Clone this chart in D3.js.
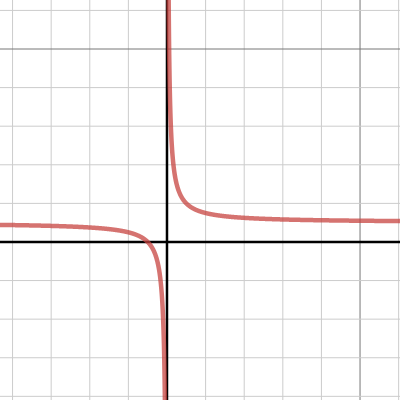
<!DOCTYPE html><html><head><script src="https://cdn.jsdelivr.net/npm/d3@7"></script>
<style>body{margin:0}svg{display:block}</style></head><body><svg width="400" height="400"></svg><script>
const xDomain=[-8.65,12.07];
const yDomain=[-8.19,12.54];
const gridStep=2, majorStep=10;
const curveXsLeft=d3.range(-8.7,-0.005,0.01);
const curveXsRight=d3.range(0.005,12.2,0.01);
const f=x=>1/x+1;
const svg=d3.select("svg");
const x=d3.scaleLinear().domain(xDomain).range([0,400]);
const y=d3.scaleLinear().domain(yDomain).range([400,0]);
const xt=d3.range(-8,13,gridStep), yt=d3.range(-8,13,gridStep);
svg.append("rect").attr("width",400).attr("height",400).attr("fill","#fff");
svg.selectAll(".vx").data(xt.filter(v=>v!==0)).join("line").attr("x1",d=>x(d)).attr("x2",d=>x(d)).attr("y1",0).attr("y2",400)
 .attr("stroke",d=>d%majorStep===0?"#777":"#ccc").attr("stroke-width",1);
svg.selectAll(".hy").data(yt.filter(v=>v!==0)).join("line").attr("y1",d=>y(d)).attr("y2",d=>y(d)).attr("x1",0).attr("x2",400)
 .attr("stroke",d=>d%majorStep===0?"#777":"#ccc").attr("stroke-width",1);
svg.append("line").attr("x1",0).attr("x2",400).attr("y1",y(0)).attr("y2",y(0)).attr("stroke","#000").attr("stroke-width",2.5);
svg.append("line").attr("y1",0).attr("y2",400).attr("x1",x(0)).attr("x2",x(0)).attr("stroke","#000").attr("stroke-width",2.5);
const line=d3.line().x(d=>x(d)).y(d=>Math.max(-50,Math.min(450,y(f(d)))));
[curveXsLeft,curveXsRight].forEach(xs=>svg.append("path").attr("d",line(xs)).attr("fill","none").attr("stroke","#c74440").attr("stroke-opacity",0.75).attr("stroke-width",4.5));
</script></body></html>
